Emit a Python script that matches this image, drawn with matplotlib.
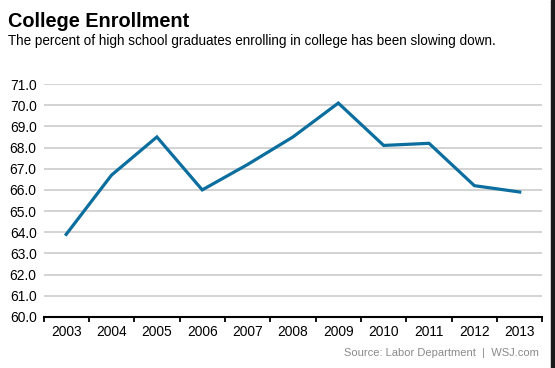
import matplotlib
matplotlib.use("Agg")
import matplotlib.pyplot as plt
from matplotlib.patches import Rectangle

years = ["2003", "2004", "2005", "2006", "2007", "2008",
         "2009", "2010", "2011", "2012", "2013"]
enrollment = [63.9, 66.7, 68.5, 66.0, 67.2, 68.5, 70.1, 68.1, 68.2, 66.2, 65.9]
y_ticks = [60, 61, 62, 63, 64, 65, 66, 67, 68, 69, 70, 71]

plt.rcParams['font.family'] = ['Liberation Sans', 'DejaVu Sans']

W, H = 555, 368
fig = plt.figure(figsize=(W / 100, H / 100), dpi=100)
ax = fig.add_axes([43.5 / W, 1 - 317 / H, (542.4 - 43.5) / W, (317 - 84) / H])

x = list(range(len(years)))
ax.plot(x, enrollment, color='#0b6e9e', lw=2.3, solid_joinstyle='miter', zorder=3)

ax.set_xlim(-0.5, len(years) - 0.5)
ax.set_ylim(60, 71)
ax.set_yticks(y_ticks)
ax.set_yticklabels([f"{v:.1f}" for v in y_ticks], fontsize=9.9)
for v in y_ticks[1:]:
    ax.axhline(v, color='#c8c8c8', lw=1.1, zorder=1)

ax.set_xticks([i - 0.5 for i in range(len(years) + 1)])
ax.set_xticklabels([])
ax.set_xticks(x, minor=True)
ax.set_xticklabels(years, minor=True, fontsize=9.9)
ax.tick_params(axis='x', which='major', length=3.5, width=1.3, color='black')
ax.tick_params(axis='x', which='minor', length=0, pad=6)
ax.tick_params(axis='y', length=0, pad=5)

for s in ['top', 'right', 'left']:
    ax.spines[s].set_visible(False)
ax.spines['bottom'].set_linewidth(1.5)

fig.text(8 / W, 1 - 27 / H, "College Enrollment", fontsize=14.3, fontweight='bold')
fig.text(8 / W, 1 - 45 / H,
         "The percent of high school graduates enrolling in college has been slowing down.",
         fontsize=9.75)
fig.text(539 / W, 1 - 356 / H, "Source: Labor Department  |  WSJ.com",
         fontsize=8.0, color='#8a8a8a', ha='right')

fig.patches.append(Rectangle((551 / W, 0), 4 / W, 1, transform=fig.transFigure,
                             color='#1a1a1a', zorder=5))

fig.savefig("out.png", dpi=100)
